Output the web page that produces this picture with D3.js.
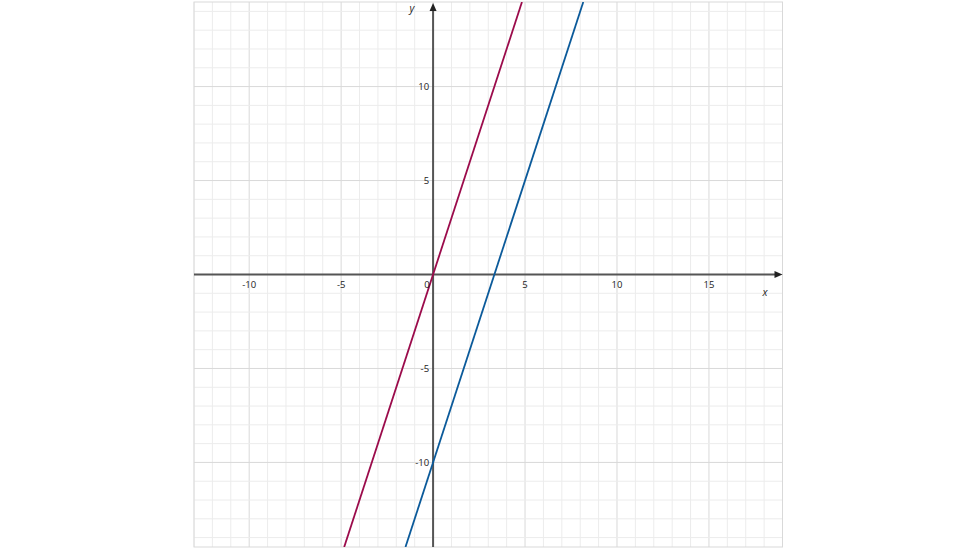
<!DOCTYPE html>
<html>
<head>
<meta charset="utf-8">
<script src="https://cdn.jsdelivr.net/npm/d3@7"></script>
<style>
  body { margin: 0; background: #fff; }
  svg { display: block; }
  text { font-family: "Open Sans", "Noto Sans", sans-serif; }
</style>
</head>
<body>
<div id="chart"></div>
<script>
// data
var xDomain = [-13, 19];
var yDomain = [-14.5, 14.5];
var xTicks = [-10, -5, 0, 5, 10, 15];
var yTicks = [-10, -5, 5, 10];
// line endpoints (x, y) at the edges of the plot
var redLine = [[-4.833, -14.5], [4.833, 14.5]];     // y = 3x
var blueLine = [[-1.5, -14.5], [8.167, 14.5]];      // y = 3x - 10

var width = 976, height = 549;
var plotLeft = 194, plotRight = 782.5, plotTop = 2, plotBottom = 547;

var svg = d3.select("#chart").append("svg")
    .attr("width", width)
    .attr("height", height);

var x = d3.scaleLinear().domain(xDomain).range([plotLeft, plotRight]);
var y = d3.scaleLinear().domain(yDomain).range([plotBottom, plotTop]);

// grid, minor every 1, major every 5
var gx = d3.range(Math.ceil(xDomain[0]), Math.floor(xDomain[1]) + 1);
var gy = d3.range(Math.ceil(yDomain[0]), Math.floor(yDomain[1]) + 1);

var grid = svg.append("g");
grid.selectAll(".vx").data(gx).enter().append("line")
    .attr("x1", d => x(d)).attr("x2", d => x(d))
    .attr("y1", plotTop).attr("y2", plotBottom)
    .attr("stroke", d => d % 5 === 0 ? "#d9d9d9" : "#ececec")
    .attr("stroke-width", 1);
grid.selectAll(".hy").data(gy).enter().append("line")
    .attr("y1", d => y(d)).attr("y2", d => y(d))
    .attr("x1", plotLeft).attr("x2", plotRight)
    .attr("stroke", d => d % 5 === 0 ? "#d9d9d9" : "#ececec")
    .attr("stroke-width", 1);
grid.append("rect")
    .attr("x", plotLeft).attr("y", plotTop)
    .attr("width", plotRight - plotLeft).attr("height", plotBottom - plotTop)
    .attr("fill", "none").attr("stroke", "#d9d9d9");

var line = d3.line().x(d => x(d[0])).y(d => y(d[1]));
svg.append("defs").append("clipPath").attr("id", "clip")
  .append("rect").attr("x", plotLeft).attr("y", plotTop)
  .attr("width", plotRight - plotLeft).attr("height", plotBottom - plotTop);

// axes
var axisColor = "#555";
svg.append("line")
    .attr("x1", plotLeft).attr("x2", plotRight - 6)
    .attr("y1", y(0)).attr("y2", y(0))
    .attr("stroke", axisColor).attr("stroke-width", 2);
svg.append("path")
    .attr("d", "M" + plotRight + "," + y(0) + "l-8,-3.5l0,7z")
    .attr("fill", "#222");
svg.append("line")
    .attr("x1", x(0)).attr("x2", x(0))
    .attr("y1", plotBottom).attr("y2", plotTop + 7)
    .attr("stroke", axisColor).attr("stroke-width", 2);
svg.append("path")
    .attr("d", "M" + x(0) + "," + (plotTop + 1) + "l-3.5,8l7,0z")
    .attr("fill", "#222");

// lines
svg.append("path").datum(redLine)
    .attr("d", line).attr("clip-path", "url(#clip)")
    .attr("fill", "none").attr("stroke", "#9b0b4b").attr("stroke-width", 1.8);
svg.append("path").datum(blueLine)
    .attr("d", line).attr("clip-path", "url(#clip)")
    .attr("fill", "none").attr("stroke", "#0b5a9a").attr("stroke-width", 1.8);

// tick labels
svg.selectAll(".xl").data(xTicks).enter().append("text")
    .attr("x", d => d === 0 ? x(0) - 6 : x(d))
    .attr("y", y(0) + 13)
    .attr("text-anchor", "middle")
    .attr("font-size", 9.5)
    .attr("fill", "#222")
    .text(d => d);
svg.selectAll(".yl").data(yTicks).enter().append("text")
    .attr("x", x(0) - 4)
    .attr("y", d => y(d) + 3.5)
    .attr("text-anchor", "end")
    .attr("font-size", 9.5)
    .attr("fill", "#222")
    .text(d => d);

// axis names
svg.append("text").attr("x", 765).attr("y", 296)
    .attr("text-anchor", "middle").attr("font-size", 10.5)
    .attr("font-style", "italic").attr("fill", "#222").text("x");
svg.append("text").attr("x", 412).attr("y", 12)
    .attr("text-anchor", "middle").attr("font-size", 10.5)
    .attr("font-style", "italic").attr("fill", "#222").text("y");
</script>
</body>
</html>
